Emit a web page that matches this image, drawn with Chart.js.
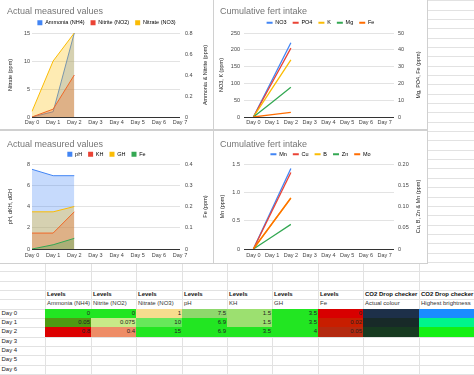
<!DOCTYPE html>
<html>
<head>
<meta charset="utf-8">
<script src="https://cdn.jsdelivr.net/npm/chart.js@4.4.1/dist/chart.umd.min.js"></script>
<style>
  body { margin: 0; width: 474px; height: 375px; overflow: hidden; position: relative; background: #fff; font-family: "Liberation Sans", Arial, sans-serif; }
  .gl { position: absolute; background: #e2e2e2; }
  .panel { position: absolute; background: #fff; }
  .panel canvas { position: absolute; left: 0; top: 0; }
  .ttl { position: absolute; font-size: 9px; line-height: 9px; color: #757575; white-space: nowrap; }
  .sep { position: absolute; background: #d0d0d0; }
  .cell { position: absolute; font-size: 6px; line-height: 9.35px; color: #222; white-space: nowrap; overflow: hidden; box-sizing: border-box; padding: 0 2px; }
</style>
</head>
<body>
<div id="sheet"></div>

<div class="panel" style="left:0;top:0;width:213px;height:129px"><canvas id="c1" width="213" height="129"></canvas><div class="ttl" style="left:7px;top:7px">Actual measured values</div></div>
<div class="panel" style="left:214px;top:0;width:213px;height:129px"><canvas id="c2" width="213" height="129"></canvas><div class="ttl" style="left:6px;top:7px">Cumulative fert intake</div></div>
<div class="panel" style="left:0;top:131px;width:213px;height:132px"><canvas id="c3" width="213" height="132"></canvas><div class="ttl" style="left:7px;top:8.5px">Actual measured values</div></div>
<div class="panel" style="left:214px;top:131px;width:213px;height:132px"><canvas id="c4" width="213" height="132"></canvas><div class="ttl" style="left:6px;top:8.5px">Cumulative fert intake</div></div>

<div class="sep" style="left:213px;top:0;width:1px;height:263px"></div>
<div class="sep" style="left:427px;top:0;width:1px;height:264px"></div>
<div class="sep" style="left:0;top:129px;width:428px;height:2px"></div>
<div class="sep" style="left:0;top:263px;width:428px;height:1px"></div>

<script>
/* aquarium log: charts + sheet table */

const days = ['Day 0', 'Day 1', 'Day 2', 'Day 3', 'Day 4', 'Day 5', 'Day 6', 'Day 7'];

// measured values (chart 1)
const ammonia = [0, 0.05, 0.8];
const nitrite = [0, 0.075, 0.4];
const nitrate = [1, 10, 15];

// measured values (chart 3)
const ph = [7.5, 6.9, 6.9];
const kh = [1.5, 1.5, 3.5];
const gh = [3.5, 3.5, 4];
const fe = [0, 0.02, 0.05];

// cumulative fert intake, macros (chart 2)
const fertNO3 = [0, 110, 221];
const fertPO4 = [0, 20.5, 41];
const fertK = [0, 85, 170];
const fertMg = [0, 8.8, 17.7];
const fertFe = [0, 1.4, 2.8];

// cumulative fert intake, micros (chart 4)
const fertMn = [0, 0.71, 1.42];
const fertCu = [0, 0.09, 0.18];
const fertB = [0, 0.06, 0.12];
const fertZn = [0, 0.029, 0.058];
const fertMo = [0, 0.06, 0.12];

// sheet table
const rowLabels = ['Day 0', 'Day 1', 'Day 2', 'Day 3', 'Day 4', 'Day 5', 'Day 6'];
const headTop = ['Levels', 'Levels', 'Levels', 'Levels', 'Levels', 'Levels', 'Levels', 'CO2 Drop checker', 'CO2 Drop checker'];
const headSub = ['Ammonia (NH4)', 'Nitrite (NO2)', 'Nitrate (NO3)', 'pH', 'KH', 'GH', 'Fe', 'Actual colour', 'Highest brightness'];
const cellVals = [
    ['0', '0', '1', '7.5', '1.5', '3.5', '0', '', ''],
    ['0.05', '0.075', '10', '6.9', '1.5', '3.5', '0.02', '', ''],
    ['0.8', '0.4', '15', '6.9', '3.5', '4', '0.05', '', '']
];
const cellColors = [
    ['#22e622', '#22e622', '#f6dc8e', '#8ed86c', '#9ce070', '#22e622', '#d80000', '#1d3049', '#1a8cff'],
    ['#4f9a12', '#c8ea88', '#66e85a', '#22e622', '#9ce070', '#22e622', '#c81e00', '#182a28', '#00f58a'],
    ['#dc0000', '#ee8c66', '#22e622', '#22e622', '#22e622', '#22e622', '#b42a10', '#173a20', '#14f014']
];

const BLUE = '#4285f4', RED = '#ea4335', YELLOW = '#fbbc04', GREEN = '#34a853', ORANGE = '#ff6d01';

function rgba(hex, a) {
    const n = parseInt(hex.slice(1), 16);
    return `rgba(${n >> 16}, ${(n >> 8) & 255}, ${n & 255}, ${a})`;
}

function buildSheet() {
    const sheet = document.getElementById('sheet');
    const colX = [0, 45, 91, 136, 182, 227, 272, 318, 363, 419, 480];
    const rowH = 9.35, row0 = 308.7;
    let html = '';
    for (let k = -33; k <= 7; k++) {
        const y = Math.round(row0 + k * rowH);
        html += `<div class="gl" style="left:0;top:${y}px;width:474px;height:1px"></div>`;
    }
    colX.slice(1, 10).forEach(x => {
        html += `<div class="gl" style="left:${x}px;top:263px;width:1px;height:112px"></div>`;
    });
    headTop.forEach((t, i) => {
        const w = colX[i + 2] - colX[i + 1];
        html += `<div class="cell" style="left:${colX[i + 1]}px;top:${row0 - 2 * rowH}px;width:${w}px;height:${rowH}px;font-weight:bold;color:#111">${t}</div>`;
        html += `<div class="cell" style="left:${colX[i + 1]}px;top:${row0 - rowH}px;width:${w}px;height:${rowH}px;color:#333">${headSub[i]}</div>`;
    });
    rowLabels.forEach((t, r) => {
        html += `<div class="cell" style="left:0;top:${row0 + r * rowH}px;width:45px;height:${rowH}px;padding-left:1.5px">${t}</div>`;
    });
    cellVals.forEach((row, r) => {
        row.forEach((v, i) => {
            const w = colX[i + 2] - colX[i + 1] + 1;
            html += `<div class="cell" style="left:${colX[i + 1]}px;top:${row0 + r * rowH}px;width:${w}px;height:${rowH + 0.5}px;background:${cellColors[r][i]};text-align:right">${v}</div>`;
        });
    });
    sheet.innerHTML = html;
}

// shifts the legend so it sits where the sheet chart draws it
const legendNudge = {
    id: 'legendNudge',
    afterLayout(chart, args, opts) {
        const lg = chart.legend;
        const p = lg.options.labels.padding;
        const dy = opts.y - (lg.top + p + 2.75);
        lg.top += dy;
        lg.bottom += dy;
    }
};

// right axis title, reading bottom-to-top like the left one
const sideTitle = {
    id: 'sideTitle',
    afterDraw(chart, args, opts) {
        const c = chart.ctx, a = chart.chartArea;
        c.save();
        c.translate(opts.x, (a.top + a.bottom) / 2);
        c.rotate(-Math.PI / 2);
        c.font = '5.5px "Liberation Sans", Arial, sans-serif';
        c.fillStyle = '#222';
        c.textAlign = 'center';
        c.textBaseline = 'middle';
        c.fillText(opts.text, 0, 0);
        c.restore();
    }
};

function makeChart(id, datasets, o) {
    const tickFont = { size: 5.5 };
    datasets.forEach((d, i) => { d.order = datasets.length - i; });
    return new Chart(document.getElementById(id), {
        type: 'line',
        data: { labels: days, datasets },
        options: {
            responsive: false,
            animation: false,
            devicePixelRatio: 1,
            layout: { padding: { top: 11.5, left: 0, right: 0, bottom: 0 } },
            elements: { point: { radius: 0 }, line: { tension: 0 } },
            plugins: {
                tooltip: { enabled: false },
                legend: {
                    position: 'top',
                    labels: {
                        padding: 6,
                        color: '#222',
                        font: { size: 5.5 },
                        boxWidth: o.area ? 5 : 6,
                        boxHeight: o.area ? 5 : 2,
                        generateLabels: chart => chart.data.datasets.map((d, i) => ({
                            text: d.label, fillStyle: d.borderColor, strokeStyle: d.borderColor,
                            lineWidth: 0, datasetIndex: i, hidden: false
                        }))
                    }
                },
                legendNudge: { y: o.legendY },
                sideTitle: { text: o.y1Title, x: o.sideX }
            },
            scales: {
                x: {
                    offset: o.offset,
                    grid: { display: false, drawTicks: false, tickLength: 0 },
                    border: { display: false },
                    ticks: { font: tickFont, color: '#444', padding: o.xPad, maxRotation: 0, autoSkip: false },
                    afterFit: s => { s.height = o.xH; }
                },
                y: {
                    position: 'left',
                    min: 0, max: o.yMax,
                    ticks: { stepSize: o.yStep, font: tickFont, color: '#444', padding: o.yPad },
                    grid: { color: ctx => ctx.tick && ctx.tick.value === 0 ? '#333' : '#e3e3e3', drawTicks: false },
                    border: { display: false },
                    title: { display: true, text: o.yTitle, font: { size: 5.5 }, color: '#222', padding: { top: o.yTitlePad, bottom: 0 } },
                    afterFit: s => { s.width = o.yW; }
                },
                y1: {
                    position: 'right',
                    min: 0, max: o.y1Max,
                    ticks: { stepSize: o.y1Step, font: tickFont, color: '#444', padding: o.y1Pad },
                    grid: { drawOnChartArea: false, drawTicks: false },
                    border: { display: false },
                    afterFit: s => { s.width = o.y1W; }
                }
            }
        },
        plugins: [legendNudge, sideTitle]
    });
}

function area(label, data, color, axis) {
    return { label, data, yAxisID: axis, borderColor: color, backgroundColor: rgba(color, 0.3), fill: 'origin', borderWidth: 1 };
}

function line(label, data, color, axis) {
    return { label, data, yAxisID: axis, borderColor: color, backgroundColor: color, fill: false, borderWidth: 1.3 };
}

function initCharts() {
    makeChart('c1', [
        area('Ammonia (NH4)', ammonia, BLUE, 'y1'),
        area('Nitrite (NO2)', nitrite, RED, 'y1'),
        area('Nitrate (NO3)', nitrate, YELLOW, 'y')
    ], { area: true, offset: false, legendY: 22.7, xH: 12, xPad: 2, yW: 32, y1W: 33, yPad: 2, y1Pad: 5,
         yMax: 15, yStep: 5, y1Max: 0.8, y1Step: 0.2, yTitle: 'Nitrate (ppm)', yTitlePad: 6.7,
         y1Title: 'Ammonia & Nitrite (ppm)', sideX: 205 });

    makeChart('c2', [
        line('NO3', fertNO3, BLUE, 'y'),
        line('PO4', fertPO4, RED, 'y1'),
        line('K', fertK, YELLOW, 'y'),
        line('Mg', fertMg, GREEN, 'y1'),
        line('Fe', fertFe, ORANGE, 'y1')
    ], { area: false, offset: true, legendY: 22.7, xH: 12, xPad: 2, yW: 30, y1W: 33, yPad: 4, y1Pad: 4,
         yMax: 250, yStep: 50, y1Max: 50, y1Step: 10, yTitle: 'NO3, K (ppm)', yTitlePad: 4.4,
         y1Title: 'Mg, PO4, Fe (ppm)', sideX: 204.7 });

    makeChart('c3', [
        area('pH', ph, BLUE, 'y'),
        area('KH', kh, RED, 'y'),
        area('GH', gh, YELLOW, 'y'),
        area('Fe', fe, GREEN, 'y1')
    ], { area: true, offset: false, legendY: 23.3, xH: 14, xPad: 3.5, yW: 32, y1W: 33, yPad: 2, y1Pad: 5,
         yMax: 8, yStep: 2, y1Max: 0.4, y1Step: 0.1, yTitle: 'pH, dKH, dGH', yTitlePad: 6.7,
         y1Title: 'Fe (ppm)', sideX: 205 });

    makeChart('c4', [
        line('Mn', fertMn, BLUE, 'y'),
        line('Cu', fertCu, RED, 'y1'),
        line('B', fertB, YELLOW, 'y1'),
        line('Zn', fertZn, GREEN, 'y1'),
        line('Mo', fertMo, ORANGE, 'y1')
    ], { area: false, offset: true, legendY: 23.3, xH: 14, xPad: 3.5, yW: 30, y1W: 33, yPad: 4, y1Pad: 4,
         yMax: 1.5, yStep: 0.5, y1Max: 0.2, y1Step: 0.05, yTitle: 'Mn (ppm)', yTitlePad: 5,
         y1Title: 'Cu, B, Zn & Mn (ppm)', sideX: 204.7 });
}

Chart.defaults.font.family = '"Liberation Sans", Arial, sans-serif';
buildSheet();
initCharts();
</script>
</body>
</html>
